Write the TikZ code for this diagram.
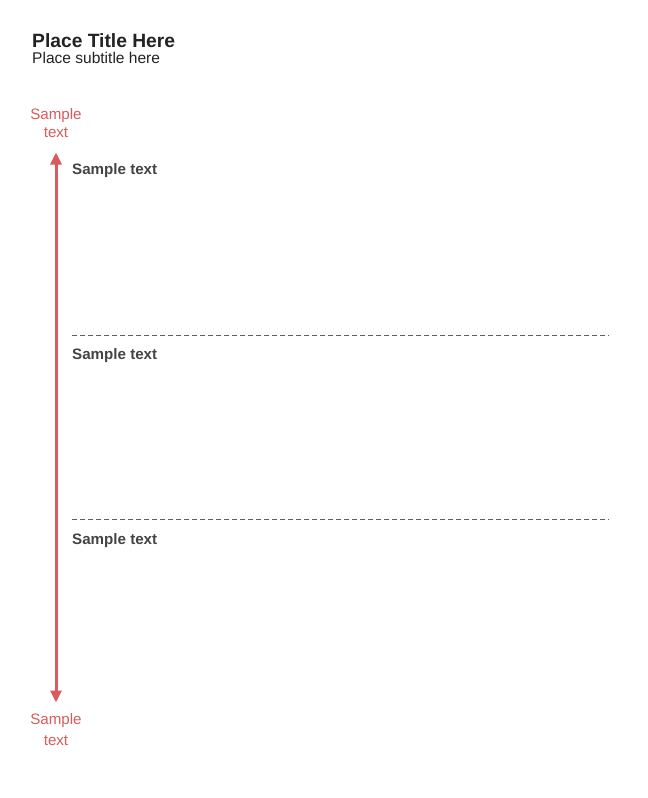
\documentclass[tikz,border=0pt]{standalone}
\usepackage{fontspec}
\setmainfont{Liberation Sans}
\usetikzlibrary{arrows.meta}
\definecolor{axisred}{HTML}{D95B5B}
\definecolor{titlegray}{HTML}{222222}
\definecolor{bandgray}{HTML}{444444}
\definecolor{sepgray}{HTML}{5B5B72}
\tikzset{
  endlabel/.style={text=axisred, align=center, inner sep=0pt},
  bandlabel/.style={anchor=base west, inner sep=0pt, text=bandgray, font=\bfseries\fontsize{15.2}{18}\selectfont},
  sepline/.style={sepgray, line width=0.9pt, dash pattern=on 5bp off 3bp},
}
\begin{document}
\begin{tikzpicture}[x=1bp, y=-1bp]
        \useasboundingbox (0, 0) rectangle (648, 798);
        \node[anchor=base west, inner sep=0pt, text=titlegray, font=\bfseries\fontsize{19.3}{24}\selectfont] (title) at (32, 47.5) {Place Title Here};
        \node[anchor=base west, inner sep=0pt, text=titlegray, font=\fontsize{15.6}{18}\selectfont] (subtitle) at (32, 64) {Place subtitle here};
        \coordinate (top) at (56, 152.5);
        \coordinate (bot) at (56, 702.5);
        \draw[{Triangle[length=12bp, width=11bp]}-{Triangle[length=12bp, width=11bp]}, axisred, line width=3bp] (top) -- (bot);
        \node[endlabel, anchor=base, font=\fontsize{15.2}{18}\selectfont] (toplabel) at (56, 137) {Sample\\text};
        \node[endlabel, anchor=base, font=\fontsize{15.2}{21}\selectfont] (botlabel) at (56, 745) {Sample\\text};
        \coordinate (sepAw) at (72, 335.5);
        \coordinate (sepAe) at (609, 335.5);
        \coordinate (sepBw) at (72, 519.5);
        \coordinate (sepBe) at (609, 519.5);
        \draw[sepline] (sepAw) -- (sepAe);
        \draw[sepline] (sepBw) -- (sepBe);
        \node[bandlabel] (bandA) at (72, 174) {Sample text};
        \node[bandlabel] (bandB) at (72, 359) {Sample text};
        \node[bandlabel] (bandC) at (72, 544) {Sample text};
    \end{tikzpicture}
\end{document}
